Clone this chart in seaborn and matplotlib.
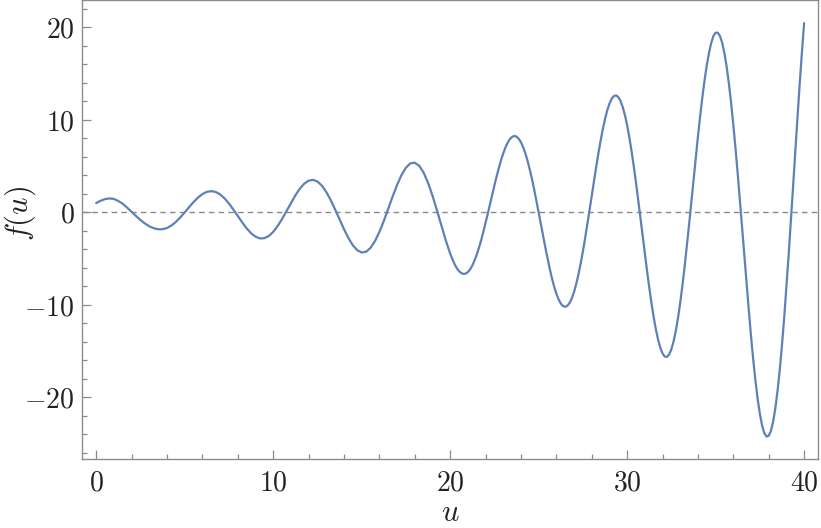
import numpy as np
import pandas as pd
import matplotlib
matplotlib.use("Agg")
import matplotlib.pyplot as plt
from matplotlib.ticker import MultipleLocator, FuncFormatter
import seaborn as sns

# read-off values: u = 0 .. 20 every 0.25
f_first = [
    1.00, 1.25, 1.43, 1.50, 1.45, 1.22, 0.92, 0.50, 0.06, -0.40,
    -0.83, -1.20, -1.51, -1.72, -1.83, -1.83, -1.70, -1.43, -1.04, -0.55,
    -0.01, 0.56, 1.11, 1.59, 1.97, 2.21, 2.29, 2.20, 1.94, 1.51,
    0.96, 0.30, -0.39, -1.09, -1.73, -2.26, -2.63, -2.82, -2.80, -2.56,
    -2.12, -1.49, -0.73, 0.12, 0.99, 1.82, 2.54, 3.09, 3.42, 3.51,
    3.33, 2.89, 2.20, 1.32, 0.31, -0.76, -1.82, -2.78, -3.56, -4.10,
    -4.34, -4.26, -3.84, -3.12, -2.13, -0.94, 0.38, 1.71, 2.96, 4.03,
    4.83, 5.29, 5.36, 5.03, 4.29, 3.19, 1.81, 0.24, -1.41, -3.02,
    -4.46,
]
# read-off values: u = 20.125 .. 40 every 0.125
f_second = [
    -5.07, -5.60, -6.04, -6.36, -6.57, -6.66, -6.63, -6.46, -6.17, -5.76,
    -5.22, -4.58, -3.84, -3.01, -2.11, -1.14, -0.15, 0.88, 1.90, 2.91,
    3.88, 4.79, 5.64, 6.38, 7.02, 7.54, 7.92, 8.16, 8.25, 8.18,
    7.95, 7.57, 7.04, 6.36, 5.55, 4.61, 3.57, 2.44, 1.24, -0.01,
    -1.27, -2.54, -3.78, -4.97, -6.10, -7.12, -8.03, -8.80, -9.41, -9.86,
    -10.13, -10.21, -10.10, -9.79, -9.29, -8.60, -7.73, -6.70, -5.52, -4.21,
    -2.80, -1.31, 0.24, 1.81, 3.37, 4.90, 6.37, 7.74, 8.99, 10.09,
    11.02, 11.75, 12.27, 12.57, 12.64, 12.46, 12.04, 11.38, 10.50, 9.39,
    8.09, 6.60, 4.96, 3.20, 1.34, -0.58, -2.52, -4.46, -6.34, -8.14,
    -9.82, -11.34, -12.67, -13.78, -14.65, -15.26, -15.59, -15.63, -15.36, -14.80,
    -13.95, -12.81, -11.40, -9.75, -7.89, -5.83, -3.63, -1.32, 1.07, 3.48,
    5.86, 8.19, 10.39, 12.45, 14.29, 15.90, 17.24, 18.30, 19.07, 19.42,
    19.41, 19.03, 18.28, 17.16, 15.70, 13.90, 11.81, 9.45, 6.86, 4.10,
    1.20, -1.77, -4.77, -7.73, -10.62, -13.41, -15.95, -18.22, -20.19, -21.80,
    -23.05, -23.87, -24.24, -24.16, -23.62, -22.60, -21.15, -19.26, -17.02, -14.30,
    -11.35, -8.06, -4.61, -0.96, 2.78, 6.55, 10.28, 13.90, 17.29, 20.45,
]

u_first = np.linspace(0.0, 20.0, len(f_first))
u_second = np.linspace(20.125, 40.0, len(f_second))
df = pd.DataFrame({
    "u": np.concatenate([u_first, u_second]),
    "f": f_first + f_second,
})

sns.set_theme(style="ticks")
plt.rcParams["font.family"] = ["DejaVu Serif", "DejaVu Sans"]
plt.rcParams["mathtext.fontset"] = "cm"

fig = plt.figure(figsize=(8.21, 5.28), dpi=100)
ax = fig.add_axes([0.0995, 0.1301, 0.8972, 0.8690])

ax.axhline(0, color="#8a8a8a", lw=1.0, ls=(0, (4, 3)), zorder=1)
sns.lineplot(data=df, x="u", y="f", ax=ax, color="#5E81B5", lw=1.6,
             zorder=2, sort=False)

ax.set_xlim(-0.82, 40.8)
ax.set_ylim(-26.7, 22.9)

ax.xaxis.set_major_locator(MultipleLocator(10))
ax.xaxis.set_minor_locator(MultipleLocator(2))
ax.yaxis.set_major_locator(MultipleLocator(10))
ax.yaxis.set_minor_locator(MultipleLocator(2))
fmt = FuncFormatter(lambda v, p: "$%d$" % int(round(v)))
ax.xaxis.set_major_formatter(fmt)
ax.yaxis.set_major_formatter(fmt)

frame_col = "#8c8c8c"
for s in ax.spines.values():
    s.set_color(frame_col)
    s.set_linewidth(1.0)

ax.tick_params(which="both", direction="in", top=False, right=False,
               color=frame_col, width=0.9, labelcolor="#222222")
ax.tick_params(which="major", length=6.5, labelsize=20)
ax.tick_params(axis="x", which="major", pad=7)
ax.tick_params(axis="y", which="major", pad=5)
ax.tick_params(which="minor", length=3.8)

ax.set_xlabel("$u$", fontsize=22, color="#222222", va="center")
ax.set_ylabel("$f(u)$", fontsize=22, color="#222222", va="center")
ax.xaxis.set_label_coords(0.5, -0.116)
ax.yaxis.set_label_coords(-0.0838, 0.535)

fig.savefig("out.png", dpi=100)
